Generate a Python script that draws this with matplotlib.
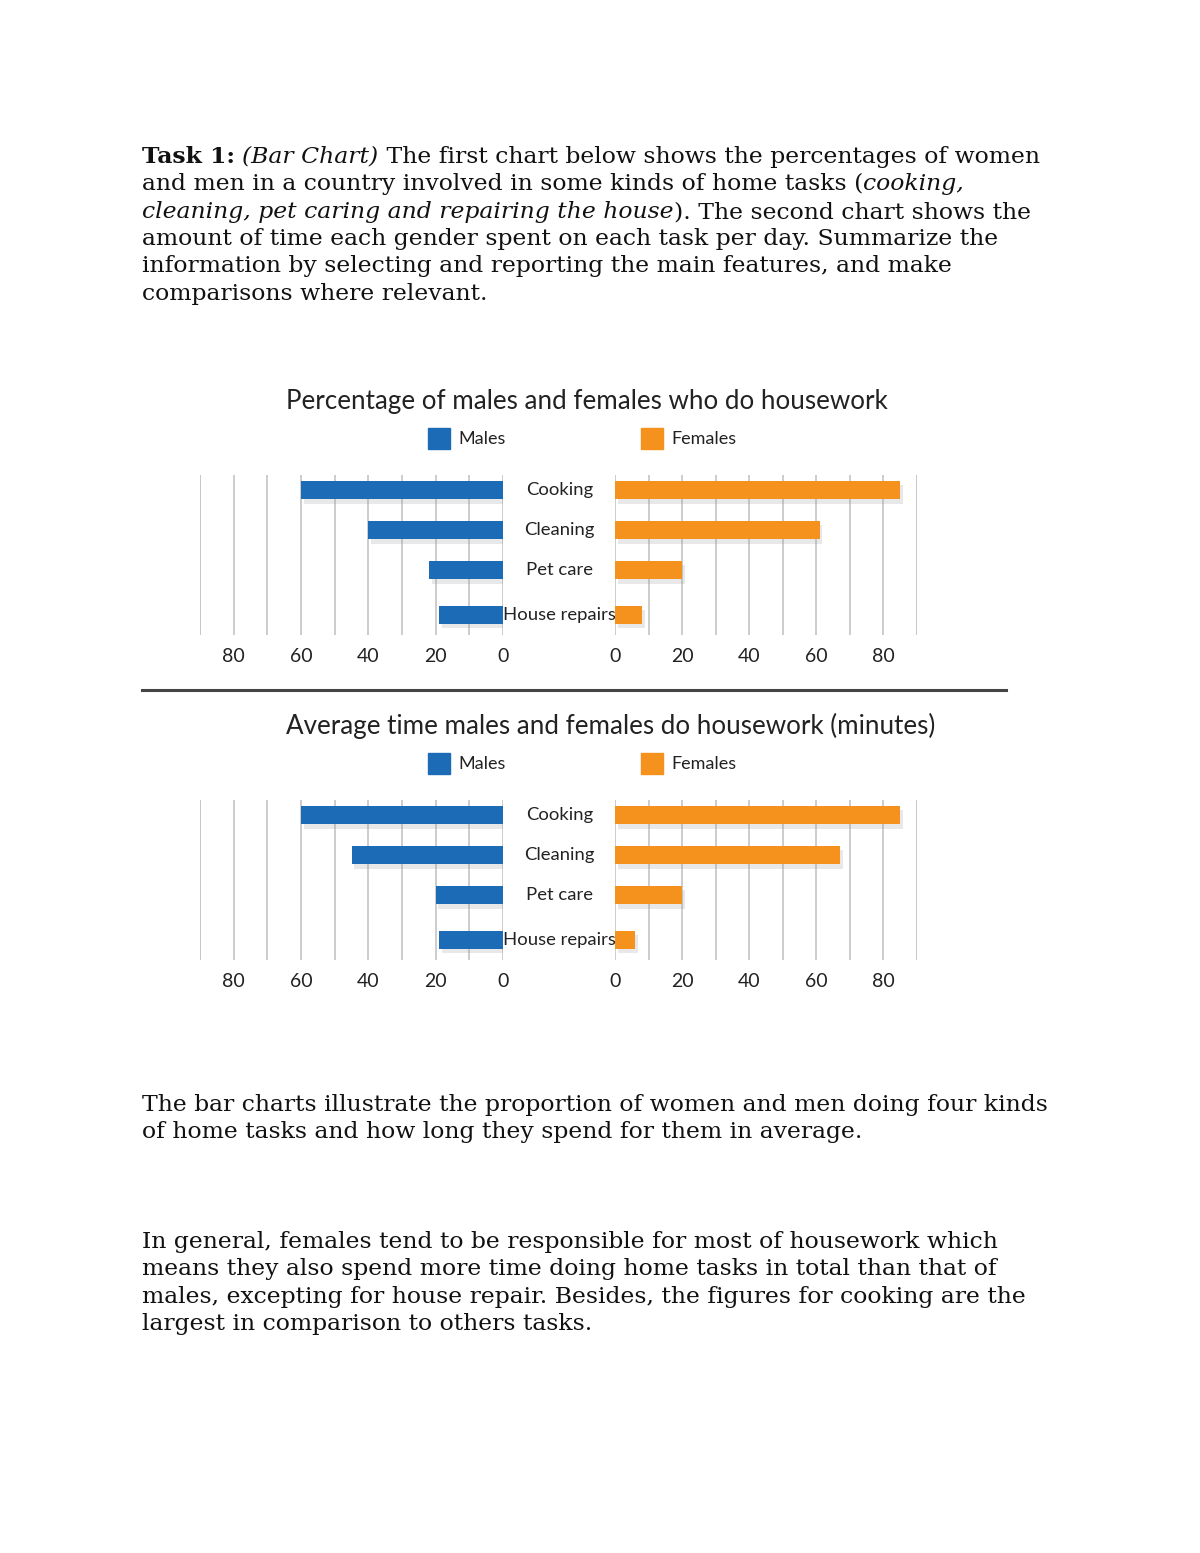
import matplotlib.pyplot as plt
import matplotlib.patheffects as pe
from matplotlib.lines import Line2D
from matplotlib.patches import Rectangle
from matplotlib.ticker import MultipleLocator

# data
tasks = ['Cooking', 'Cleaning', 'Pet care', 'House repairs']
pct_males = [60, 40, 22, 19]
pct_females = [85, 61, 20, 8]
time_males = [60, 45, 20, 19]
time_females = [85, 67, 20, 6]
ticks = [0, 20, 40, 60, 80]

BLUE = '#1c6bb6'
ORANGE = '#f5921e'
W, H = 1200, 1553
FS = 16.9
SERIF = 'DejaVu Serif'
CHART_FONT = 'Lato'

fig = plt.figure(figsize=(W / 100, H / 100), dpi=100)
fig.patch.set_facecolor('white')
renderer = fig.canvas.get_renderer()


def px(x, y):
    return x / W, 1 - y / H


def text_width(s, **kw):
    t = fig.text(0, 0, s + '|', **kw)
    b = fig.text(0, 0, '|', **kw)
    w = t.get_window_extent(renderer).width - b.get_window_extent(renderer).width
    t.remove()
    b.remove()
    return w


def put_runs(y, runs, x0=142):
    x = x0
    for s, style in runs:
        kw = dict(fontsize=FS, family=SERIF, color='#111111',
                  fontweight='bold' if 'b' in style else 'normal',
                  fontstyle='italic' if 'i' in style else 'normal')
        fig.text(*px(x, y), s, va='baseline', **kw)
        x += text_width(s, **kw)


# intro paragraph
put_runs(163, [('Task 1:', 'b'), (' ', ''), ('(Bar Chart)', 'i'),
               (' The first chart below shows the percentages of women', '')])
put_runs(190, [('and men in a country involved in some kinds of home tasks (', ''),
               ('cooking,', 'i')])
put_runs(218, [('cleaning, pet caring and repairing the house', 'i'),
               ('). The second chart shows the', '')])
put_runs(245, [('amount of time each gender spent on each task per day. Summarize the', '')])
put_runs(272, [('information by selecting and reporting the main features, and make', '')])
put_runs(300, [('comparisons where relevant.', '')])

shadow = [pe.SimplePatchShadow(offset=(2, -3), shadow_rgbFace='#999999', alpha=0.22),
          pe.Normal()]
ypos = [0, 1, 2, 3.12]


def chart(top, title, males, females):
    # title + legend
    fig.text(*px(286, top + 1), title, ha='left', va='center',
             fontsize=18.7, family=CHART_FONT, color='#222222')
    for sx, lab, col in [(428, 'Males', BLUE), (641, 'Females', ORANGE)]:
        fig.add_artist(Rectangle(px(sx, top + 49), 22 / W, 21 / H,
                                 transform=fig.transFigure, color=col))
        fig.text(*px(sx + 30, top + 39), lab, va='center', fontsize=13,
                 family=CHART_FONT, color='#222222')

    ax_top, ax_bot = top + 75, top + 235
    bottom = 1 - ax_bot / H
    height = (ax_bot - ax_top) / H
    axm = fig.add_axes([200 / W, bottom, 303 / W, height])
    axf = fig.add_axes([615 / W, bottom, 302 / W, height])

    for ax, vals, col in [(axm, males, BLUE), (axf, females, ORANGE)]:
        bars = ax.barh(ypos, vals, height=0.46, color=col, zorder=3)
        for b in bars:
            b.set_path_effects(shadow)
        ax.set_ylim(3.62, -0.38)
        ax.set_yticks([])
        ax.xaxis.set_minor_locator(MultipleLocator(10))
        ax.set_xticks(ticks)
        ax.grid(axis='x', which='both', color='#c8c8c8', lw=1.3, zorder=0)
        ax.tick_params(axis='x', which='both', length=0, pad=9,
                       labelsize=14, labelcolor='#222222')
        for lab in ax.get_xticklabels():
            lab.set_family(CHART_FONT)
        for sp in ax.spines.values():
            sp.set_visible(False)
    axm.set_xlim(90, 0)
    axf.set_xlim(0, 90)
    axf.axvline(90, color='#c8c8c8', lw=1.3, zorder=0)
    axm.axvline(90, color='#c8c8c8', lw=1.3, zorder=0)

    for t, y in zip(tasks, ypos):
        axm.text(-16.8, y, t, ha='center', va='center', fontsize=13.3,
                 family=CHART_FONT, color='#222222', clip_on=False)


chart(400, 'Percentage of males and females who do housework', pct_males, pct_females)
fig.add_artist(Line2D([142 / W, 1006 / W], [1 - 690 / H] * 2, color='#444444', lw=2.2))
chart(725, 'Average time males and females do housework (minutes)', time_males, time_females)

# answer paragraphs
put_runs(1111, [('The bar charts illustrate the proportion of women and men doing four kinds', '')])
put_runs(1138, [('of home tasks and how long they spend for them in average.', '')])

put_runs(1248, [('In general, females tend to be responsible for most of housework which', '')])
put_runs(1275, [('means they also spend more time doing home tasks in total than that of', '')])
put_runs(1303, [('males, excepting for house repair. Besides, the figures for cooking are the', '')])
put_runs(1330, [('largest in comparison to others tasks.', '')])

plt.savefig('out.png', dpi=100)
